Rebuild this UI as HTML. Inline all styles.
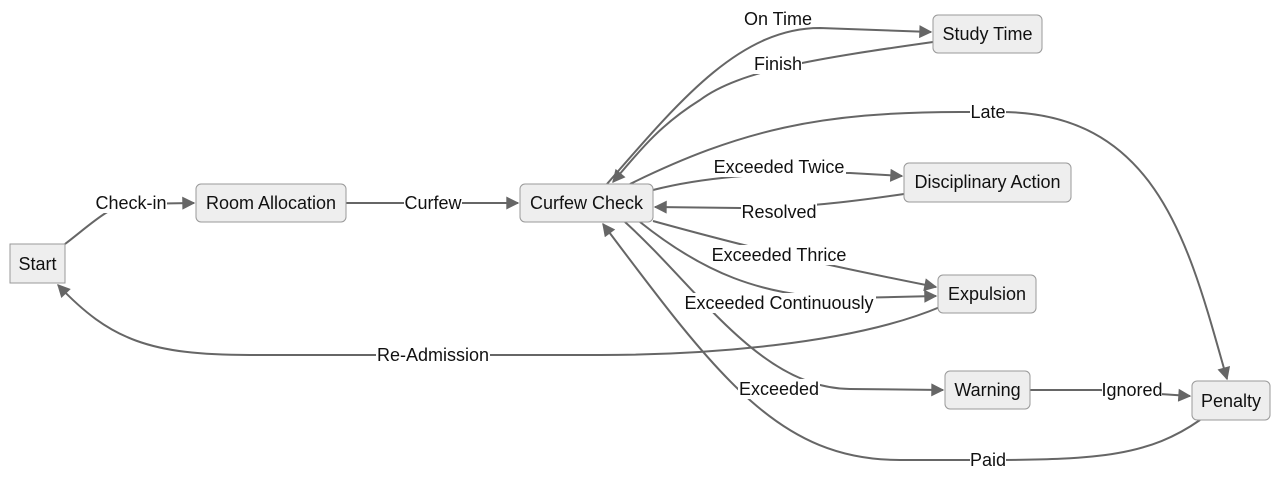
<!DOCTYPE html>
<html><head><style>
body{margin:0;background:#fff;}
svg{display:block;font-family:"Liberation Sans",Arial,sans-serif;}
.n{fill:#eeeeee;stroke:#999;stroke-width:1;}
.e{fill:none;stroke:#666;stroke-width:2;}
text{font-size:18px;fill:#111;}
.lb{fill:#fff;}
</style></head><body>
<svg width="1280" height="481" viewBox="0 0 1280 481">
<defs><marker id="a" viewBox="0 0 10 10" refX="9" refY="5" markerWidth="16" markerHeight="13" markerUnits="userSpaceOnUse" orient="auto"><path d="M0,0L10,5L0,10z" fill="#666"/></marker></defs>
<path class="e" marker-end="url(#a)" d="M65,244 C90,225 110,205 130,204 L194,203"/>
<path class="e" marker-end="url(#a)" d="M346,203 L518,203"/>
<path class="e" marker-end="url(#a)" d="M607,184 C680,100 740,28 820,28 L931,32"/>
<path class="e" marker-end="url(#a)" d="M933,42 C820,58 740,70 700,100 C660,125 640,150 613,182"/>
<path class="e" marker-end="url(#a)" d="M630,184 C740,130 820,112 960,112 L1000,112 C1160,112 1190,250 1227,379"/>
<path class="e" marker-end="url(#a)" d="M653,190 C700,178 760,172 850,173 L902,176"/>
<path class="e" marker-end="url(#a)" d="M904,194 C850,202 800,208 740,208 L655,207"/>
<path class="e" marker-end="url(#a)" d="M653,221 C740,245 800,260 936,287"/>
<path class="e" marker-end="url(#a)" d="M640,222 C700,270 760,298 850,298 L936,296"/>
<path class="e" marker-end="url(#a)" d="M625,222 C700,290 760,388 850,389 L943,390"/>
<path class="e" marker-end="url(#a)" d="M1030,390 L1100,390 L1190,396"/>
<path class="e" marker-end="url(#a)" d="M1200,420 C1150,455 1100,460 990,460 L900,460 C780,460 720,380 603,224"/>
<path class="e" marker-end="url(#a)" d="M940,307 C850,345 700,355 600,355 L250,355 C150,355 110,340 58,285"/>
<g text-anchor="middle">
<rect class="lb" x="95" y="193" width="72" height="20"/><text x="131" y="209">Check-in</text>
<rect class="lb" x="404" y="193" width="58" height="20"/><text x="433" y="209">Curfew</text>
<text x="778" y="25">On Time</text>
<rect class="lb" x="754" y="54" width="48" height="20"/><text x="778" y="70">Finish</text>
<rect class="lb" x="970" y="102" width="36" height="20"/><text x="988" y="118">Late</text>
<rect class="lb" x="712" y="157" width="134" height="20"/><text x="779" y="173">Exceeded Twice</text>
<rect class="lb" x="741" y="202" width="76" height="20"/><text x="779" y="218">Resolved</text>
<rect class="lb" x="710" y="245" width="138" height="20"/><text x="779" y="261">Exceeded Thrice</text>
<rect class="lb" x="682" y="293" width="194" height="20"/><text x="779" y="309">Exceeded Continuously</text>
<rect class="lb" x="738" y="379" width="82" height="20"/><text x="779" y="395">Exceeded</text>
<rect class="lb" x="1102" y="380" width="60" height="20"/><text x="1132" y="396">Ignored</text>
<rect class="lb" x="970" y="450" width="36" height="20"/><text x="988" y="466">Paid</text>
<rect class="lb" x="376" y="345" width="114" height="20"/><text x="433" y="361">Re-Admission</text>
</g>
<g text-anchor="middle">
<rect class="n" x="10" y="244" width="55" height="39"/><text x="37.5" y="270">Start</text>
<rect class="n" x="196" y="184" width="150" height="38" rx="5"/><text x="271" y="209">Room Allocation</text>
<rect class="n" x="520" y="184" width="133" height="38" rx="5"/><text x="586.5" y="209">Curfew Check</text>
<rect class="n" x="933" y="15" width="109" height="38" rx="5"/><text x="987.5" y="40">Study Time</text>
<rect class="n" x="904" y="163" width="167" height="39" rx="5"/><text x="987.5" y="188">Disciplinary Action</text>
<rect class="n" x="938" y="275" width="98" height="38" rx="5"/><text x="987" y="300">Expulsion</text>
<rect class="n" x="945" y="371" width="85" height="38" rx="5"/><text x="987.5" y="396">Warning</text>
<rect class="n" x="1192" y="381" width="78" height="39" rx="5"/><text x="1231" y="407">Penalty</text>
</g>
</svg>
</body></html>
